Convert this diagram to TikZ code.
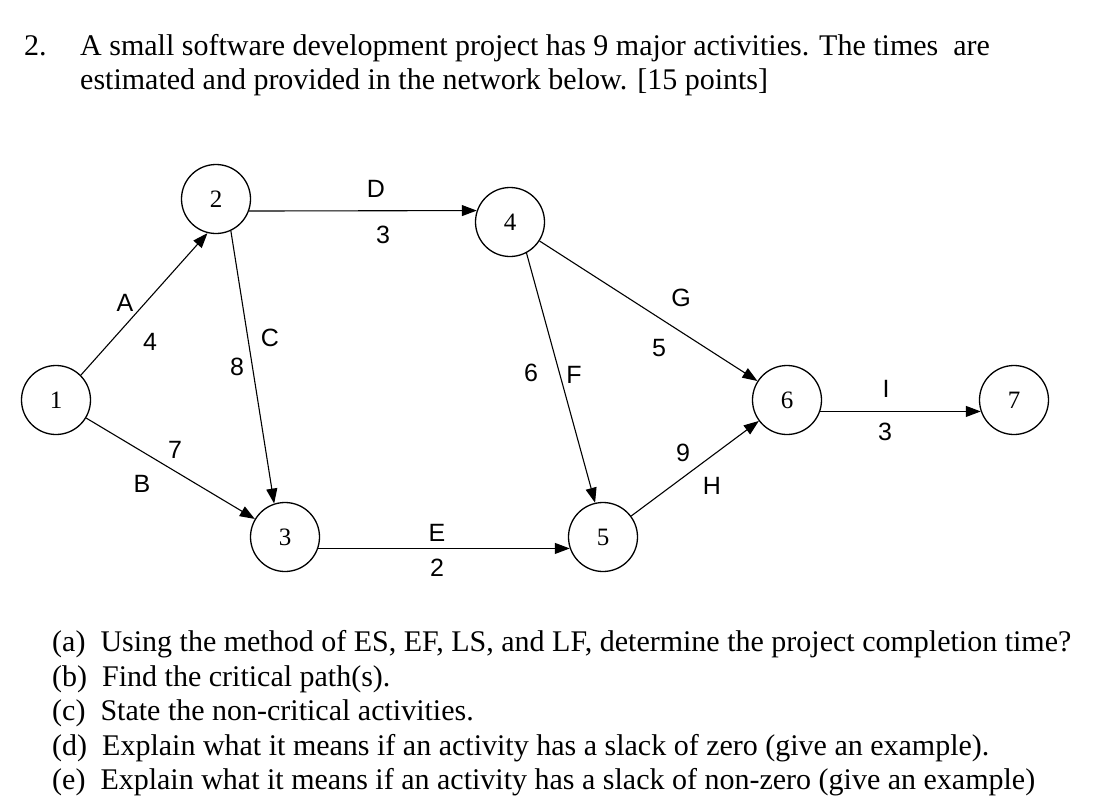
\documentclass[tikz,border=0pt]{standalone}
\usepackage{fontspec}
\setmainfont{Liberation Serif}
\newfontfamily\handfont{Liberation Sans}
\usetikzlibrary{arrows.meta}
\tikzset{
  event/.style={circle,draw,line width=1.3pt,minimum size=69pt,inner sep=0pt,font=\fontsize{25}{27}\selectfont},
  act/.style={-{Triangle[length=15pt,width=11pt]},line width=1.1pt},
  hand/.style={inner sep=0pt,font=\handfont\fontsize{25}{27}\selectfont},
  txt/.style={anchor=base west,inner sep=0pt,font=\fontsize{30}{33}\selectfont}
}

\begin{document}
\begin{tikzpicture}[x=1pt,y=-1pt]
  \useasboundingbox (0,0) rectangle (1093,803);

  % question header
  \node[txt] (qnum) at (24,55) {2.};
  \node[txt] (qlineA) at (80,55) {A small software development project has 9 major activities. The times\ \ are};
  \node[txt] (qlineB) at (80,89) {estimated and provided in the network below. [15 points]};

  % events
  \node[event] (n1) at (56,400) {1};
  \node[event] (n2) at (216,199) {2};
  \node[event] (n3) at (285,537) {3};
  \node[event] (n4) at (510,222) {4};
  \node[event] (n5) at (603,537) {5};
  \node[event] (n6) at (787,400) {6};
  \node[event] (n7) at (1014,400) {7};

  % activities
  \draw[act] (n1.45) -- (n2.256);
  \draw[act] (n1) -- (n3);
  \draw[act] (n2.-65) -- (n3.108);
  \draw[act] (n2.-20) -- (n4.161);
  \draw[act] (n3.-19) -- (n5.199);
  \draw[act] (n4.-62) -- (n5.103);
  \draw[act] (n4) -- (n6);
  \draw[act] (n5) -- (n6);
  \draw[act] (n6.-19) -- (n7.199);

  % handwritten names and times
  \node[hand] (lA) at (125,303) {A};
  \node[hand] (tA) at (150,342) {4};
  \node[hand] (lB) at (142,484) {B};
  \node[hand] (tB) at (175,450) {7};
  \node[hand] (lC) at (270,338) {C};
  \node[hand] (tC) at (237,367) {8};
  \node[hand] (lD) at (376,189) {D};
  \node[hand] (tD) at (383,235) {3};
  \node[hand] (lE) at (437,533) {E};
  \node[hand] (tE) at (437,568) {2};
  \node[hand] (tF) at (531,373) {6};
  \node[hand] (lF) at (574,375) {F};
  \node[hand] (lG) at (681,298) {G};
  \node[hand] (tG) at (659,348) {5};
  \node[hand] (tH) at (683,453) {9};
  \node[hand] (lH) at (712,486) {H};
  \node[hand] (lI) at (886,389) {I};
  \node[hand] (tI) at (885,432) {3};

  % sub-questions
  \node[txt] (qa) at (52,651) {(a)\ \ Using the method of ES, EF, LS, and LF, determine the project completion time?};
  \node[txt] (qb) at (52,686) {(b)\ \ Find the critical path(s).};
  \node[txt] (qc) at (52,720) {(c)\ \ State the non-critical activities.};
  \node[txt] (qd) at (52,755) {(d)\ \ Explain what it means if an activity has a slack of zero (give an example).};
  \node[txt] (qe) at (52,789) {(e)\ \ Explain what it means if an activity has a slack of non-zero (give an example)};
\end{tikzpicture}
\end{document}
